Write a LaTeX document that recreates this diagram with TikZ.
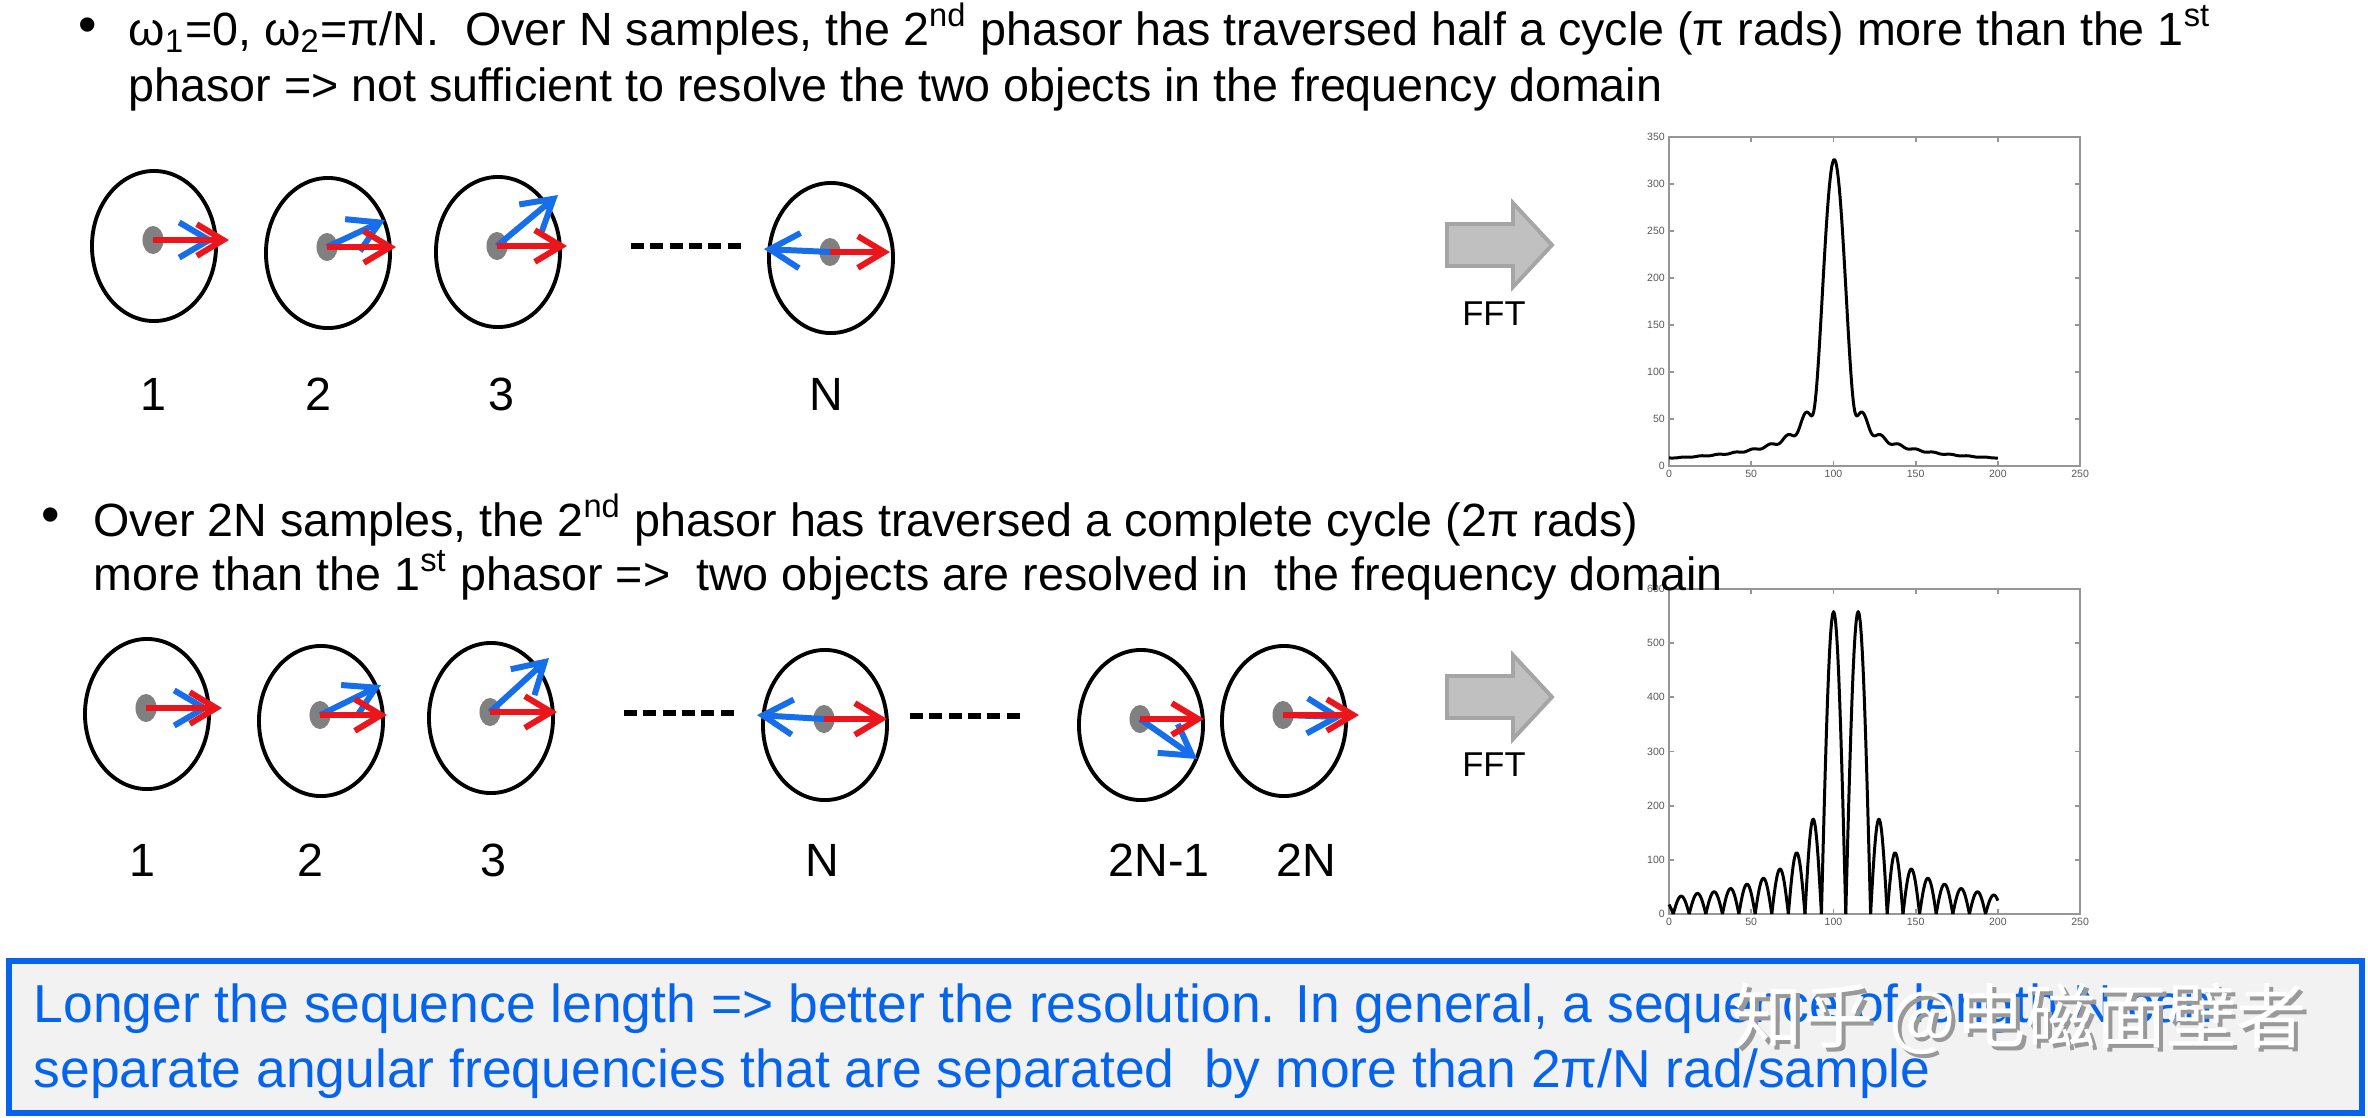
\documentclass[tikz,border=0pt]{standalone}
\usepackage{fontspec}
\setmainfont{Liberation Sans}
\newfontfamily\cjkfont{Noto Sans CJK SC}
\usetikzlibrary{arrows.meta,shapes.geometric}

\definecolor{vecred}{RGB}{235,22,28}
\definecolor{vecblue}{RGB}{22,110,235}
\definecolor{noteblue}{RGB}{5,100,235}
\definecolor{notefill}{RGB}{242,242,242}
\definecolor{fftfill}{RGB}{192,192,192}
\definecolor{fftline}{RGB}{165,165,165}
\definecolor{axisgray}{RGB}{150,150,150}

\tikzset{
  ring/.style={draw, ellipse, line width=1.1pt, minimum width=1.24cm, minimum height=1.5cm, inner sep=0pt},
  hub/.style={fill=gray, ellipse, minimum width=0.21cm, minimum height=0.28cm, inner sep=0pt},
  redvec/.style={vecred, line width=1.7pt, -{Straight Barb[length=7.5pt,width=9pt]}},
  bluevec/.style={vecblue, line width=1.7pt, -{Straight Barb[length=8.5pt,width=10pt]}},
  gap/.style={line width=1.7pt, dash pattern=on 3.7pt off 1.8pt},
  bigtext/.style={font=\fontsize{13.26pt}{15pt}\selectfont, inner sep=0pt},
  bullet/.style={font=\fontsize{15pt}{15pt}\selectfont, inner sep=0pt},
  notetext/.style={font=\fontsize{15.2pt}{17pt}\selectfont, text=noteblue, inner sep=0pt, anchor=base west},
  fftshape/.style={fill=fftfill, draw=fftline, line width=1.1pt, line join=miter},
  frame/.style={draw=axisgray, line width=0.5pt},
  tick/.style={font=\fontsize{3pt}{3.5pt}\selectfont, text=black!65, inner sep=1pt},
  curve/.style={line width=0.85pt, line join=round}
}

\begin{document}
\begin{tikzpicture}[x=0.01cm, y=-0.01cm]
\useasboundingbox (0,0) rectangle (2368,1117);
\fill[white] (0,0) rectangle (2368,1117);

% first bullet
\node[bullet] (bul1) at (88,30) {•};
\node[bigtext, anchor=base west] (top1) at (128,45) {ω\textsubscript{1}=0, ω\textsubscript{2}=π/N.\ \ Over N samples, the 2\textsuperscript{nd} phasor has traversed half a cycle (π rads) more than the 1\textsuperscript{st}};
\node[bigtext, anchor=base west] (top2) at (128,101) {phasor => not sufficient to resolve the two objects in the frequency domain};

% phasors
\foreach \n/\cx/\cy/\rl/\bx/\by/\lx/\ly/\txt in {
  a/154/246/76/62/0/153/394/1, b/328/253/69/58/-27/318/394/2,
  c/498/252/70/61/-51/501/394/3, d/831/258/60/-66/-3/826/394/N,
  e/147/714/76/64/0/142/860/1, f/321/721/67/61/-30/310/860/2,
  g/491/718/67/59/-54/493/860/3, h/825/725/63/-67/-4/822/860/N,
  i/1141/725/64/57/40/1159/860/2N-1, j/1284/721/76/60/2/1306/860/2N}
{
  \node[ring] (ring\n) at (\cx,\cy) {};
  \node[hub] (hub\n) at (\cx-1,\cy-6) {};
  \draw[bluevec] (hub\n.center) -- ++(\bx,\by);
  \draw[redvec] (hub\n.center) -- ++(\rl,0);
  \node[bigtext] (lab\n) at (\lx,\ly) {\txt};
}
\draw[gap] (631,246) -- (746,246);
\draw[gap] (624,713) -- (738,713);
\draw[gap] (910,716) -- (1025,716);

% FFT arrows
\foreach \y/\ty/\n in {245/314/1, 697/765/2}
{
  \draw[fftshape] (1447,\y-21) -- (1513,\y-21) -- (1513,\y-42) -- (1552,\y)
    -- (1513,\y+42) -- (1513,\y+21) -- (1447,\y+21) -- cycle;
  \node[font=\fontsize{9.8pt}{11pt}\selectfont, inner sep=0pt] (fft\n) at (1494,\ty) {FFT};
}

% spectrum, N samples
\begin{scope}[shift={(1669,466)}, x=0.01644cm, y=0.0094cm]
  \draw[frame] (0,0) rectangle (250,350);
  \foreach \t in {0,50,...,250} {
    \draw[frame] (\t,0) -- ++(0,5) (\t,350) -- ++(0,-5);
    \node[tick, below] (ax1x\t) at (\t,0) {\t};
  }
  \foreach \t in {0,50,...,350} {
    \draw[frame] (0,\t) -- ++(3,0) (250,\t) -- ++(-3,0);
    \node[tick, left] (ax1y\t) at (0,\t) {\t};
  }
  \draw[curve] plot[domain=0:200, samples=401]
    (\x, {256*sqrt((sin(17.142857*(\x-97.875))/(0.299199*(\x-97.875)))^2
      + (sin(17.142857*(\x-103.125))/(0.299199*(\x-103.125)))^2)});
\end{scope}

% spectrum, 2N samples
\begin{scope}[shift={(1669,914)}, x=0.01644cm, y=0.005417cm]
  \draw[frame] (0,0) rectangle (250,600);
  \foreach \t in {0,50,...,250} {
    \draw[frame] (\t,0) -- ++(0,9) (\t,600) -- ++(0,-9);
    \node[tick, below] (ax2x\t) at (\t,0) {\t};
  }
  \foreach \t in {0,100,...,600} {
    \draw[frame] (0,\t) -- ++(3,0) (250,\t) -- ++(-3,0);
    \node[tick, left] (ax2y\t) at (0,\t) {\t};
  }
  \foreach \a/\b/\h in {-7.4/2.6/24, 2.6/12.3/33, 12.3/22.4/38, 22.4/32.5/41,
      32.5/42.5/47, 42.5/52.4/55, 52.4/62.5/66, 62.5/72.6/83, 72.6/82.7/113,
      82.7/92.7/175, 92.7/107.5/558, 107.5/122.6/558, 122.6/132.7/175,
      132.7/142.3/113, 142.3/152.4/83, 152.4/162.5/66, 162.5/172.6/55,
      172.6/182.7/47, 182.7/192.5/41, 192.5/202.5/35}
  {
    \pgfmathsetmacro\s{max(\a,0)}
    \pgfmathsetmacro\e{min(\b,200)}
    \draw[curve] plot[domain=\s:\e, samples=25] (\x, {\h*sin(180*(\x-\a)/(\b-\a))});
  }
\end{scope}

% second bullet
\node[bullet] (bul2) at (51,520) {•};
\node[bigtext, anchor=base west] (mid1) at (93,536) {Over 2N samples, the 2\textsuperscript{nd} phasor has traversed a complete cycle (2π rads)};
\node[bigtext, anchor=base west] (mid2) at (93,590) {more than the 1\textsuperscript{st} phasor =>\ \ two objects are resolved in\ \ the frequency domain};

% note box
\draw[draw=noteblue, fill=notefill, line width=1.7pt] (9,961) rectangle (2362,1113);
\node[notetext] (note1) at (33,1022) {Longer the sequence length => better the resolution. In general, a sequence of length N can};
\node[notetext] (note2) at (33,1087) {separate angular frequencies that are separated\ \ by more than 2π/N rad/sample};

% watermark
\node[font=\cjkfont\fontsize{20pt}{24pt}\selectfont, text=black!40, inner sep=0pt] (wmshadow) at (2024,1023) {知乎 @电磁面壁者};
\node[font=\cjkfont\fontsize{20pt}{24pt}\selectfont, text=white, inner sep=0pt] (wmark) at (2020,1019) {知乎 @电磁面壁者};
\end{tikzpicture}
\end{document}
